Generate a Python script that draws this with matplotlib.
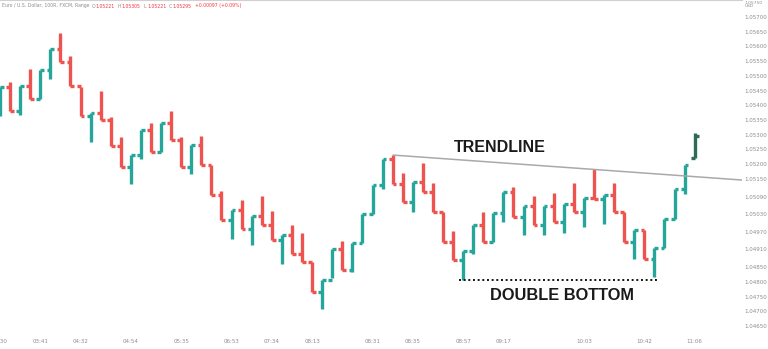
import numpy as np
import matplotlib
matplotlib.use("Agg")
import matplotlib.pyplot as plt

# EUR/USD range bars (100R)
highs = [1.05462, 1.05479, 1.05466, 1.05523, 1.05520, 1.05591, 1.05646, 1.05567, 1.05462, 1.05374,
         1.05449, 1.05360, 1.05292, 1.05231, 1.05316, 1.05340, 1.05340, 1.05381, 1.05292, 1.05265,
         1.05296, 1.05196, 1.05109, 1.05044, 1.05078, 1.05024, 1.05092, 1.05041, 1.04959, 1.04993,
         1.04966, 1.04866, 1.04806, 1.04912, 1.04939, 1.04932, 1.05032, 1.05129, 1.05217, 1.05231,
         1.05170, 1.05139, 1.05204, 1.05136, 1.05037, 1.04973, 1.04905, 1.04993, 1.05037, 1.05034,
         1.05105, 1.05122, 1.05058, 1.05092, 1.05058, 1.05102, 1.05065, 1.05136, 1.05085, 1.05182,
         1.05095, 1.05136, 1.05036, 1.04976, 1.04976, 1.04915, 1.05014, 1.05114, 1.05197, 1.05305]
lows = [1.05362, 1.05379, 1.05366, 1.05423, 1.05420, 1.05491, 1.05546, 1.05467, 1.05362, 1.05274,
        1.05349, 1.05260, 1.05192, 1.05131, 1.05216, 1.05240, 1.05240, 1.05281, 1.05192, 1.05165,
        1.05196, 1.05096, 1.05009, 1.04944, 1.04978, 1.04924, 1.04992, 1.04941, 1.04859, 1.04893,
        1.04866, 1.04766, 1.04706, 1.04812, 1.04839, 1.04832, 1.04932, 1.05029, 1.05117, 1.05131,
        1.05070, 1.05039, 1.05104, 1.05036, 1.04937, 1.04873, 1.04805, 1.04893, 1.04937, 1.04934,
        1.05005, 1.05022, 1.04958, 1.04992, 1.04958, 1.05002, 1.04965, 1.05036, 1.04985, 1.05082,
        1.04995, 1.05036, 1.04936, 1.04876, 1.04876, 1.04815, 1.04914, 1.05014, 1.05097, 1.05221]
opens = [1.05375, 1.05462, 1.05379, 1.05466, 1.05423, 1.05520, 1.05591, 1.05546, 1.05467, 1.05362,
         1.05374, 1.05349, 1.05260, 1.05192, 1.05231, 1.05316, 1.05240, 1.05340, 1.05281, 1.05192,
         1.05265, 1.05196, 1.05096, 1.05009, 1.05044, 1.04978, 1.05024, 1.04992, 1.04941, 1.04959,
         1.04893, 1.04866, 1.04766, 1.04806, 1.04912, 1.04839, 1.04932, 1.05032, 1.05129, 1.05217,
         1.05131, 1.05070, 1.05139, 1.05104, 1.05036, 1.04937, 1.04873, 1.04905, 1.04993, 1.04937,
         1.05034, 1.05105, 1.05022, 1.05058, 1.04992, 1.05058, 1.05002, 1.05065, 1.05036, 1.05085,
         1.05082, 1.05095, 1.05036, 1.04936, 1.04976, 1.04876, 1.04915, 1.05014, 1.05114, 1.05221]
closes = [1.05462, 1.05379, 1.05466, 1.05423, 1.05520, 1.05591, 1.05546, 1.05467, 1.05362, 1.05374,
          1.05349, 1.05260, 1.05192, 1.05231, 1.05316, 1.05240, 1.05340, 1.05281, 1.05192, 1.05265,
          1.05196, 1.05096, 1.05009, 1.05044, 1.04978, 1.05024, 1.04992, 1.04941, 1.04959, 1.04893,
          1.04866, 1.04766, 1.04806, 1.04912, 1.04839, 1.04932, 1.05032, 1.05129, 1.05217, 1.05131,
          1.05070, 1.05139, 1.05104, 1.05036, 1.04937, 1.04873, 1.04905, 1.04993, 1.04937, 1.05034,
          1.05105, 1.05022, 1.05058, 1.04992, 1.05058, 1.05002, 1.05065, 1.05036, 1.05085, 1.05082,
          1.05095, 1.05036, 1.04936, 1.04976, 1.04876, 1.04915, 1.05014, 1.05114, 1.05197, 1.05295]

time_labels = ["03:30", "03:41", "04:32", "04:54", "05:35", "06:53", "07:34", "08:13",
               "08:31", "08:35", "08:57", "09:17", "10:03", "10:42", "11:06"]
time_label_bars = [0, 4, 8, 13, 18, 23, 27, 31, 37, 41, 46, 50, 58, 64, 69]

price_ticks = [1.05700, 1.05650, 1.05600, 1.05550, 1.05500, 1.05450, 1.05400,
               1.05350, 1.05300, 1.05250, 1.05200, 1.05150, 1.05090, 1.05030, 1.04970,
               1.04910, 1.04850, 1.04800, 1.04750, 1.04700, 1.04650]
top_price = "1.05750"

# pattern points
trend_bars = (39, 59)          # highs the trendline runs through
bottom_bars = (46, 65)         # double bottom lows

UP = "#26a69a"
DOWN = "#ef5350"
LIVE = "#2e6b57"

fig = plt.figure(figsize=(7.68, 3.49), dpi=100)
ax = fig.add_axes([0, 16 / 349, 742 / 768, 333 / 349])

x = np.arange(len(highs))
o = np.array(opens)
c = np.array(closes)
cols = [UP if cc >= oo else DOWN for oo, cc in zip(o, c)]
cols[-1] = LIVE

lw = 2.4
ax.vlines(x, lows, highs, colors=cols, lw=lw)
ax.hlines(o, x - 0.38, x, colors=cols, lw=lw)
ax.hlines(c, x, x + 0.38, colors=cols, lw=lw)

xmax = 73.7
ax.set_xlim(0, xmax)
ax.set_ylim(1.04626, 1.05758)

# trendline through the two highs, run out to the price scale
i1, i2 = trend_bars
slope = (highs[i2] - highs[i1]) / (i2 - i1)
ax.plot([i1, xmax], [highs[i1], highs[i1] + slope * (xmax - i1)],
        color="#a9a9a9", lw=1.1, solid_capstyle="butt")

# double bottom support
b1, b2 = bottom_bars
level = min(lows[b1], lows[b2])
ax.hlines(level, b1 - 0.45, b2 + 0.35, colors="#111111", lw=1.4,
          linestyles=(0, (1, 1.4)))

ax.text(49.65, 1.05258, "TRENDLINE", ha="center", va="center", fontsize=11.5,
        fontweight="bold", family="Liberation Sans", color="#1a1a1a")
ax.text(55.8, 1.04752, "DOUBLE BOTTOM", ha="center", va="center", fontsize=11.8,
        fontweight="bold", family="Liberation Sans", color="#1a1a1a")

ax.yaxis.tick_right()
ax.set_yticks(price_ticks)
ax.set_yticklabels([f"{p:.5f}" for p in price_ticks])
ax.set_xticks(time_label_bars)
ax.set_xticklabels(time_labels)
ax.tick_params(axis="both", length=0, labelsize=4, labelcolor="#8c8c8c")
ax.tick_params(axis="y", pad=1.5)
ax.tick_params(axis="x", pad=4)

for side in ["left", "right", "bottom"]:
    ax.spines[side].set_visible(False)
ax.spines["top"].set_color("#d0d0d0")
ax.spines["top"].set_linewidth(0.8)

# top of the price scale: last label with the currency under it
fig.text(745 / 768, 1 - 0.5 / 349, top_price + "\nUSD", fontsize=3.2, color="#8c8c8c",
         va="top", ha="left", linespacing=0.95)

# header line
ty = 1 - 6 / 349
fig.text(2 / 768, ty, "Euro / U.S. Dollar, 100R, FXCM, Range", fontsize=3.3,
         color="#8c8c8c", va="center")
header_vals = [("O", "1.05221", 92), ("H", "1.05305", 118), ("L", "1.05221", 144),
               ("C", "1.05295", 169), ("", "+0.00097 (+0.09%)", 195)]
for letter, val, px in header_vals:
    if letter:
        fig.text(px / 768, ty, letter, fontsize=3.3, color="#8c8c8c", va="center")
        px += 3
    fig.text(px / 768, ty, val, fontsize=3.3, color="#f23645", va="center")

fig.savefig("out.png", dpi=100)
